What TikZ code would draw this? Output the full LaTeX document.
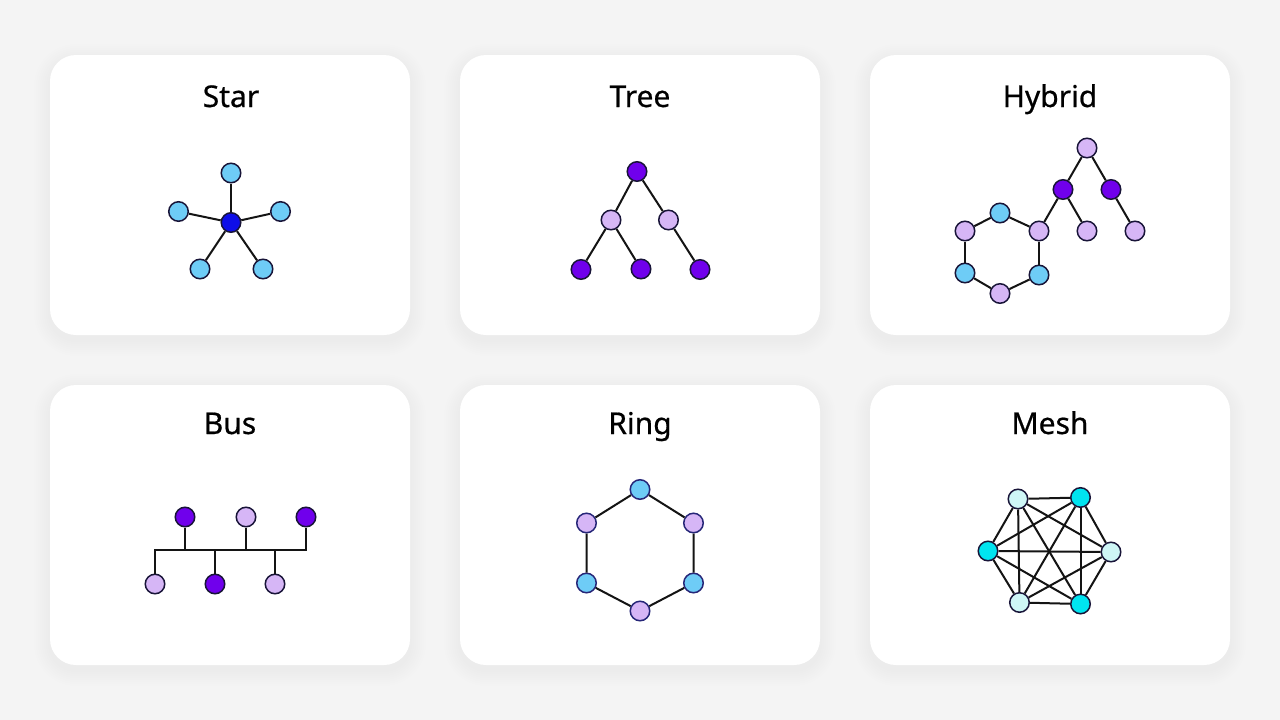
\documentclass[tikz,border=0pt]{standalone}
\usepackage{fontspec}
\setmainfont{Noto Sans}
\newfontfamily\ttlfont[FakeBold=0.6]{Noto Sans}
\begin{document}
\begin{tikzpicture}[x=1pt,y=-1pt,
  ttl/.style={font=\ttlfont\fontsize{30}{33}\selectfont,text=black,inner sep=0pt,anchor=base},
  nd/.style={circle,draw=ndborder,line width=1.5pt,minimum size=19.5pt,inner sep=0pt},
  lb/.style={nd,fill=lblue},
  bl/.style={nd,fill=dblue},
  pu/.style={nd,fill=purp},
  la/.style={nd,fill=lav},
  cy/.style={nd,fill=cyanc},
  lc/.style={nd,fill=lcyan},
  rg/.style={draw=ringborder},
  edge/.style={draw=black!92,line width=2pt}]
\definecolor{bgc}{RGB}{244,244,244}
\definecolor{lblue}{RGB}{110,204,246}
\definecolor{dblue}{RGB}{14,14,232}
\definecolor{purp}{RGB}{112,0,236}
\definecolor{lav}{RGB}{214,182,246}
\definecolor{cyanc}{RGB}{0,228,240}
\definecolor{lcyan}{RGB}{206,246,246}
\definecolor{ndborder}{RGB}{24,20,56}
\definecolor{ringborder}{RGB}{38,38,120}
\useasboundingbox (0,0) rectangle (1280,720);
\fill[bgc] (0,0) rectangle (1280,720);
% cards with soft shadow
\foreach \x/\y in {50/55,460/55,870/55,50/385,460/385,870/385}{
  \foreach \i in {2,4,...,16}{
    \fill[black,opacity=0.004,rounded corners=26pt+\i pt] (\x-\i,\y-\i+5) rectangle (\x+360+\i,\y+280+\i+5);
  }
  \fill[white,rounded corners=26pt] (\x,\y) rectangle (\x+360,\y+280);
}
% titles
\node[ttl] (tstar) at (231,107) {Star};
\node[ttl] (ttree) at (640,107) {Tree};
\node[ttl] (thyb) at (1050,107) {Hybrid};
\node[ttl] (tbus) at (230,434) {Bus};
\node[ttl] (tring) at (640,434) {Ring};
\node[ttl] (tmesh) at (1050,434) {Mesh};
% Star
\node[bl] (sc) at (231,222.5) {};
\node[lb] (s1) at (231,173) {};
\node[lb] (s2) at (178.5,211.5) {};
\node[lb] (s3) at (280.5,211.5) {};
\node[lb] (s4) at (200,269) {};
\node[lb] (s5) at (263,269) {};
\foreach \n in {s1,s2,s3,s4,s5}{\draw[edge] (sc) -- (\n);}
% Tree
\node[pu] (t0) at (637,171.5) {};
\node[la] (t1) at (611,220) {};
\node[la] (t2) at (668.5,220) {};
\node[pu] (t3) at (581,269.5) {};
\node[pu] (t4) at (641,269) {};
\node[pu] (t5) at (700,269.5) {};
\draw[edge] (t0) -- (t1);
\draw[edge] (t0) -- (t2);
\draw[edge] (t1) -- (t3);
\draw[edge] (t1) -- (t4);
\draw[edge] (t2) -- (t5);
% Hybrid
\node[la] (h0) at (1087,148) {};
\node[pu] (h1) at (1063,189.5) {};
\node[pu] (h2) at (1111,189.5) {};
\node[la] (h3) at (1087,231) {};
\node[la] (h4) at (1135,231) {};
\node[la] (h5) at (1039,231) {};
\node[lb] (h6) at (1000,213) {};
\node[la] (h7) at (965,231) {};
\node[lb] (h8) at (965,273) {};
\node[la] (h9) at (1000,293.5) {};
\node[lb] (h10) at (1039,275) {};
\draw[edge] (h0) -- (h1);
\draw[edge] (h0) -- (h2);
\draw[edge] (h1) -- (h3);
\draw[edge] (h2) -- (h4);
\draw[edge] (h1) -- (h5);
\draw[edge] (h5) -- (h6);
\draw[edge] (h6) -- (h7);
\draw[edge] (h7) -- (h8);
\draw[edge] (h8) -- (h9);
\draw[edge] (h9) -- (h10);
\draw[edge] (h10) -- (h5);
% Bus
\node[pu] (b1) at (185,517) {};
\node[la] (b2) at (246,517) {};
\node[pu] (b3) at (306,517) {};
\node[la] (b4) at (155,584) {};
\node[pu] (b5) at (215,584) {};
\node[la] (b6) at (275,584) {};
\coordinate (bl) at (155,550);
\coordinate (br) at (306,550);
\draw[edge] (b4) -- (bl) -- (br) -- (b3);
\draw[edge] (b1) -- (b1 |- bl);
\draw[edge] (b2) -- (b2 |- bl);
\draw[edge] (b5) -- (b5 |- bl);
\draw[edge] (b6) -- (b6 |- bl);
% Ring
\node[lb,rg] (r1) at (640,489.5) {};
\node[la,rg] (r2) at (693.5,523) {};
\node[lb,rg] (r3) at (693.5,583) {};
\node[la,rg] (r4) at (640,611) {};
\node[lb,rg] (r5) at (586.5,583) {};
\node[la,rg] (r6) at (586.5,523) {};
\draw[edge] (r1) -- (r2) -- (r3) -- (r4) -- (r5) -- (r6) -- (r1);
% Mesh
\node[lc] (m1) at (1018,499) {};
\node[cy] (m2) at (1080.5,497.5) {};
\node[lc] (m3) at (1111,552) {};
\node[cy] (m4) at (1080.5,604) {};
\node[lc] (m5) at (1019.5,602.5) {};
\node[cy] (m6) at (988,551) {};
\foreach \a/\b in {m1/m2,m1/m3,m1/m4,m1/m5,m1/m6,m2/m3,m2/m4,m2/m5,m2/m6,m3/m4,m3/m5,m3/m6,m4/m5,m4/m6,m5/m6}{
  \draw[edge] (\a) -- (\b);
}
\end{tikzpicture}
\end{document}
